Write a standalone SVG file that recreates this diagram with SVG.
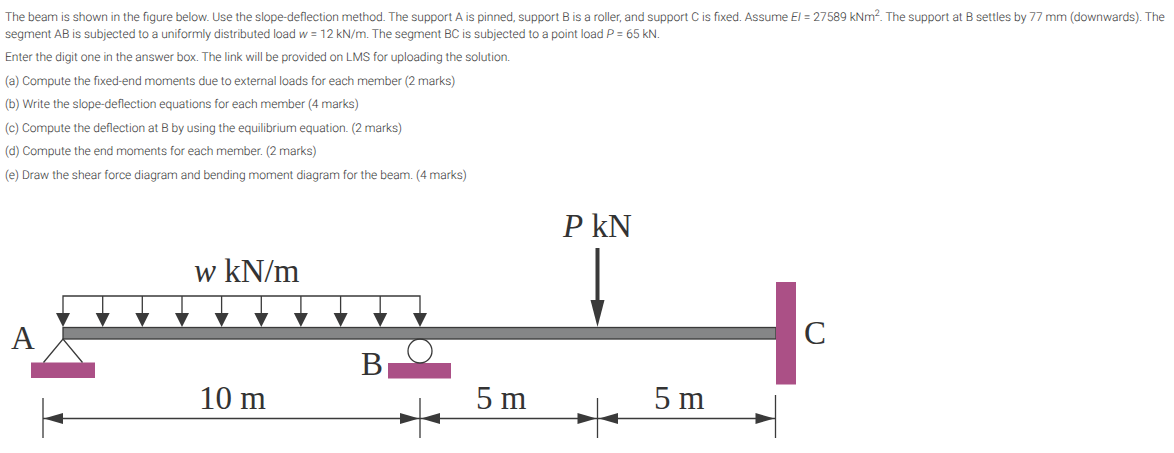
<svg xmlns="http://www.w3.org/2000/svg" width="1174" height="453" viewBox="0 0 1174 453">
<style>
.t{font-family:Roboto,"Liberation Sans",sans-serif;font-size:12.06px;font-weight:300;fill:#333;text-rendering:geometricPrecision}
.s{font-family:"Liberation Serif","Times New Roman",serif;font-size:33px;fill:#333}
.i{font-style:italic}
.sup{fill:#ab5086}
.ln{stroke:#3a3a3a;stroke-width:1.3;fill:none}
.hd{fill:#3a3a3a}
</style>
<defs>
<path id="down" class="hd" d="M-7,-13H7L0,1Z"/>
<path id="right" class="hd" d="M-19,-5.5L0,0L-19,5.5Z"/>
<path id="left" class="hd" d="M19,-5.5L0,0L19,5.5Z"/>
</defs>
<rect width="1174" height="453" fill="#fff"/>
<g id="question">
<text class="t" x="5" y="21">The beam is shown in the figure below. Use the slope-deflection method. The support A is pinned, support B is a roller, and support C is fixed. Assume <tspan class="i">EI</tspan> = 27589 kNm<tspan font-size="9" dy="-5">2</tspan><tspan dy="5">. The support at B settles by 77 mm (downwards). The</tspan></text>
<text class="t" x="5" y="38">segment AB is subjected to a uniformly distributed load <tspan class="i">w</tspan> = 12 kN/m. The segment BC is subjected to a point load <tspan class="i">P</tspan> = 65 kN.</text>
<text class="t" x="5" y="61">Enter the digit one in the answer box. The link will be provided on LMS for uploading the solution.</text>
<text class="t" x="5" y="85">(a) Compute the fixed-end moments due to external loads for each member (2 marks)</text>
<text class="t" x="5" y="108">(b) Write the slope-deflection equations for each member (4 marks)</text>
<text class="t" x="5" y="132">(c) Compute the deflection at B by using the equilibrium equation. (2 marks)</text>
<text class="t" x="5" y="155">(d) Compute the end moments for each member. (2 marks)</text>
<text class="t" x="5" y="179">(e) Draw the shear force diagram and bending moment diagram for the beam. (4 marks)</text>
</g>
<g id="beam"><rect x="63" y="327.5" width="713" height="11.5" fill="#858687" stroke="#3a3a3a" stroke-width="1.3"/></g>
<g id="support-A">
<rect class="sup" x="31" y="362.5" width="64" height="15.5"/>
<path class="ln" d="M43.5,362.5L63,339L82.5,362.5"/>
<text class="s" x="11" y="349">A</text>
</g>
<g id="support-B">
<rect class="sup" x="388" y="363" width="63" height="15.5"/>
<circle class="ln" cx="420" cy="351" r="12"/>
<text class="s" x="361" y="375">B</text>
</g>
<g id="support-C">
<rect class="sup" x="776" y="282" width="20" height="102.5"/>
<text class="s" x="804" y="344">C</text>
</g>
<g id="connectors">
<path class="ln" d="M63,314V296H420V314M102.7,296V314M142.3,296V314M182,296V314M221.6,296V314M261.3,296V314M300.9,296V314M340.6,296V314M380.2,296V314"/>
<use href="#down" x="63" y="326"/><use href="#down" x="102.7" y="326"/><use href="#down" x="142.3" y="326"/><use href="#down" x="182" y="326"/><use href="#down" x="221.6" y="326"/><use href="#down" x="261.3" y="326"/><use href="#down" x="300.9" y="326"/><use href="#down" x="340.6" y="326"/><use href="#down" x="380.2" y="326"/><use href="#down" x="420" y="326"/>
<path d="M597.5,248V302" stroke="#3a3a3a" stroke-width="4" fill="none"/>
<path class="hd" d="M590.5,300H604.5L597.5,327Z"/>
<path class="ln" d="M43,398V438M420,398V438M597.5,398V438M775.5,395V438M43,418.5H775.5"/>
<use href="#left" x="44" y="418.5"/><use href="#right" x="419" y="418.5"/><use href="#left" x="421" y="418.5"/><use href="#right" x="596.5" y="418.5"/><use href="#left" x="599" y="418.5"/><use href="#right" x="774.5" y="418.5"/>
</g>
<g id="labels">
<text class="s" x="194" y="282"><tspan class="i">w</tspan> kN/m</text>
<text class="s" x="563" y="237"><tspan class="i">P</tspan> kN</text>
<text class="s" x="199" y="409">10 m</text>
<text class="s" x="476" y="409">5 m</text>
<text class="s" x="654" y="409">5 m</text>
</g>
</svg>
